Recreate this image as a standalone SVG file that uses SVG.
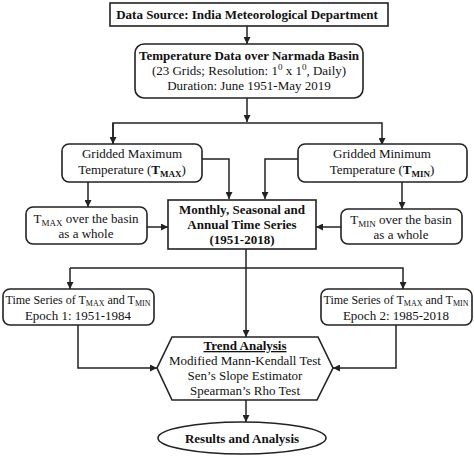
<svg xmlns="http://www.w3.org/2000/svg" width="474" height="457" viewBox="0 0 474 457">
<style>
.b{fill:#fff;stroke:#222;stroke-width:1.6}
.c{fill:none;stroke:#222;stroke-width:1.5}
text{font-family:"Liberation Serif","Times New Roman",serif;font-size:13px;fill:#111;text-anchor:middle}
.bd{font-weight:bold}
.s{font-size:9px}
.e{font-size:12px}
.es{font-size:8px}
</style>
<defs>
<marker id="a" viewBox="0 0 10 10" refX="10" refY="5" markerWidth="7" markerHeight="7" markerUnits="userSpaceOnUse" orient="auto"><path d="M0,0L10,5L0,10z" fill="#222"/></marker>
</defs>
<rect width="474" height="457" fill="#fff"/>
<g id="connectors">
<path class="c" d="M247,26V44" marker-end="url(#a)"/>
<path class="c" d="M247,98V122" marker-end="url(#a)"/>
<path class="c" d="M113,145V123H382V145" marker-end="url(#a)"/>
<path class="c" d="M113,123V144" marker-end="url(#a)"/>
<path class="c" d="M202,159H229V199" marker-end="url(#a)"/>
<path class="c" d="M298,159H265V199" marker-end="url(#a)"/>
<path class="c" d="M88,182V207" marker-end="url(#a)"/>
<path class="c" d="M402,182V209" marker-end="url(#a)"/>
<path class="c" d="M147,227H168" marker-end="url(#a)"/>
<path class="c" d="M341,227H316" marker-end="url(#a)"/>
<path class="c" d="M246,249V337" marker-end="url(#a)"/>
<path class="c" d="M70,268H403V289" marker-end="url(#a)"/>
<path class="c" d="M70,268V289" marker-end="url(#a)"/>
<path class="c" d="M78,325V368H157" marker-end="url(#a)"/>
<path class="c" d="M396,325V368H333" marker-end="url(#a)"/>
<path class="c" d="M246,400V422" marker-end="url(#a)"/>
</g>
<g id="source">
<rect class="b" x="110" y="3" width="278" height="23"/>
<text class="bd" x="247" y="19">Data Source: India Meteorological Department</text>
</g>
<g id="tempdata">
<rect class="b" x="135" y="44" width="228" height="54" rx="9"/>
<text class="bd" x="249" y="60">Temperature Data over Narmada Basin</text>
<text x="249" y="75">(23 Grids; Resolution: 1<tspan class="s" dy="-5">0</tspan><tspan dy="5"> x 1</tspan><tspan class="s" dy="-5">0</tspan><tspan dy="5">, Daily)</tspan></text>
<text x="249" y="90">Duration: June 1951-May 2019</text>
</g>
<g id="gmax">
<rect class="b" x="62" y="144" width="140" height="38" rx="7"/>
<text x="132" y="158">Gridded Maximum</text>
<text x="132" y="174">Temperature (<tspan class="bd">T</tspan><tspan class="bd s" dy="3">MAX</tspan><tspan dy="-3">)</tspan></text>
</g>
<g id="gmin">
<rect class="b" x="298" y="144" width="169" height="38" rx="7"/>
<text x="382" y="158">Gridded Minimum</text>
<text x="382" y="174">Temperature (<tspan class="bd">T</tspan><tspan class="bd s" dy="3">MIN</tspan><tspan dy="-3">)</tspan></text>
</g>
<g id="monthly">
<rect class="b" x="168" y="200" width="148" height="49"/>
<text class="bd" x="242" y="214">Monthly, Seasonal and</text>
<text class="bd" x="242" y="229">Annual Time Series</text>
<text class="bd" x="242" y="244">(1951-2018)</text>
</g>
<g id="tmaxbasin">
<rect class="b" x="26" y="207" width="121" height="37" rx="7"/>
<text x="86" y="223">T<tspan class="s" dy="3">MAX</tspan><tspan dy="-3"> over the basin</tspan></text>
<text x="86" y="238">as a whole</text>
</g>
<g id="tminbasin">
<rect class="b" x="341" y="209" width="121" height="35" rx="7"/>
<text x="401" y="224">T<tspan class="s" dy="3">MIN</tspan><tspan dy="-3"> over the basin</tspan></text>
<text x="401" y="239">as a whole</text>
</g>
<g id="epoch1">
<rect class="b" x="3" y="289" width="151" height="36" rx="7"/>
<text class="e" x="78" y="304">Time Series of T<tspan class="es" dy="2">MAX</tspan><tspan dy="-2"> and T</tspan><tspan class="es" dy="2">MIN</tspan></text>
<text x="78" y="320">Epoch 1: 1951-1984</text>
</g>
<g id="epoch2">
<rect class="b" x="321" y="289" width="151" height="36" rx="7"/>
<text class="e" x="396" y="304">Time Series of T<tspan class="es" dy="2">MAX</tspan><tspan dy="-2"> and T</tspan><tspan class="es" dy="2">MIN</tspan></text>
<text x="396" y="320">Epoch 2: 1985-2018</text>
</g>
<g id="trend">
<path class="b" d="M172,337H318L333,368L317,400H172L157,368Z"/>
<text class="bd" x="245" y="350" text-decoration="underline">Trend Analysis</text>
<text x="245" y="365">Modified Mann-Kendall Test</text>
<text x="245" y="380">Sen’s Slope Estimator</text>
<text x="245" y="395">Spearman’s Rho Test</text>
</g>
<g id="results">
<ellipse class="b" cx="242" cy="438" rx="84" ry="16"/>
<text class="bd" x="242" y="443">Results and Analysis</text>
</g>
</svg>
